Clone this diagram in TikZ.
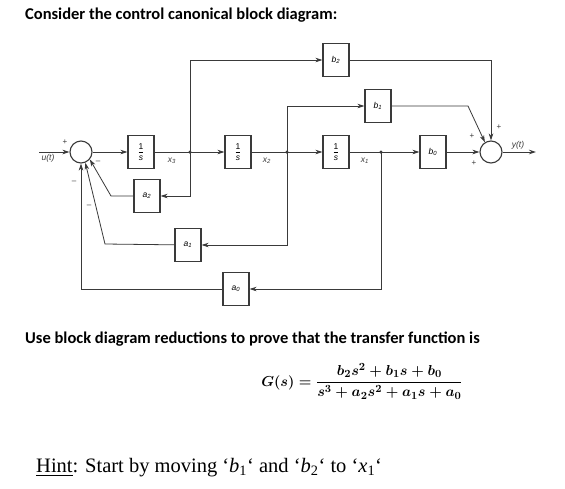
\documentclass[tikz,border=0pt]{standalone}
\usepackage{amsmath}
\usepackage{fontspec}
\setmainfont{Carlito}
\setsansfont{Liberation Sans}
\newfontfamily\timesf{Liberation Serif}
\usetikzlibrary{arrows.meta}
\definecolor{linec}{HTML}{3A3A3A}
\newcommand{\dfont}{\sffamily\itshape\fontsize{8.5}{9.5}\selectfont}
\newcommand{\intg}{$\dfrac{\textsf{\upshape 1}}{\textsf{\itshape s}}$}
\newcommand{\lab}[2]{#1\textsubscript{#2}}
\tikzset{
  ln/.style={draw=linec, line width=0.8pt},
  arr/.style={ln, -{Stealth[length=7pt,width=4.5pt]}},
  blk/.style={draw=linec, line width=1.2pt, minimum width=26pt, minimum height=33pt, inner sep=0pt, fill=white, font=\dfont},
  sumn/.style={draw=linec, circle, line width=1.1pt, minimum size=22pt, inner sep=0pt},
  lbl/.style={font=\dfont, text=linec, inner sep=0pt},
  sgn/.style={font=\sffamily\fontsize{8}{9}\selectfont, text=linec, inner sep=0pt},
  jdot/.style={circle, fill=linec, minimum size=3.5pt, inner sep=0pt}
}
\begin{document}
\begin{tikzpicture}[x=1pt,y=-1pt]
\fill[white] (0,0) rectangle (565,488);
\useasboundingbox (0,0) rectangle (565,488);

% title
\node[anchor=base west, inner sep=0pt, font=\bfseries\fontsize{16.5}{19}\selectfont] (title) at (25,19) {Consider the control canonical block diagram:};

% nodes
\node[sumn] (s1) at (81,152) {};
\node[blk] (i1) at (141,152) {\intg};
\node[jdot] (j1) at (190,152) {};
\node[blk] (i2) at (238,152) {\intg};
\node[jdot] (j2) at (287,152) {};
\node[blk] (i3) at (336,152) {\intg};
\node[jdot] (j3) at (381,152) {};
\node[blk] (b0) at (433,152) {\lab{b}{0}};
\node[sumn] (s2) at (491,152) {};
\node[blk] (b2) at (336,60) {\lab{b}{2}};
\node[blk] (b1) at (378,106) {\lab{b}{1}};
\node[blk] (a2) at (147,196) {\lab{a}{2}};
\node[blk] (a1) at (188,245) {\lab{a}{1}};
\node[blk] (a0) at (236,289) {\lab{a}{0}};
\coordinate (uin) at (39,152);
\coordinate (yout) at (536,152);
\coordinate (k1) at (468,106);
\coordinate (k2) at (111,196);
\coordinate (k3) at (105,244);

% forward path
\draw[arr] (uin) -- (s1);
\draw[arr] (s1) -- (i1);
\draw[ln] (i1) -- (j1.center);
\draw[arr] (j1.center) -- (i2);
\draw[ln] (i2) -- (j2.center);
\draw[arr] (j2.center) -- (i3);
\draw[ln] (i3) -- (j3.center);
\draw[arr] (j3.center) -- (b0);
\draw[arr] (b0) -- (s2);
\draw[arr] (s2) -- (yout);

% feedforward
\draw[arr] (j1.center) |- (b2);
\draw[arr] (b2) -| (s2);
\draw[arr] (j2.center) |- (b1);
\draw[arr] (b1) -- (k1) -- (s2.122);

% feedback
\draw[arr] (j1.center) |- (a2);
\draw[arr] (a2) -- (k2) -- (s1.-40);
\draw[arr] (j2.center) |- (a1);
\draw[arr] (a1) -- (k3) -- (s1.-68);
\draw[arr] (j3.center) |- (a0);
\draw[arr] (a0) -| (s1);

% labels
\node[lbl] (lu) at (48,158) {u(t)};
\node[lbl] (ly) at (518,145) {y(t)};
\node[lbl] (lx3) at (172,161) {x\textsubscript{3}};
\node[lbl] (lx2) at (267,161) {x\textsubscript{2}};
\node[lbl] (lx1) at (365,161) {x\textsubscript{1}};
\node[sgn] (p1) at (65,142) {+};
\node[sgn] (m1) at (98,162) {\textendash};
\node[sgn] (m2) at (74,182) {\textendash};
\node[sgn] (m3) at (89,206) {\textendash};
\node[sgn] (p2) at (472,136) {+};
\node[sgn] (p3) at (499,127) {+};
\node[sgn] (p4) at (474,163) {+};

% text below
\node[anchor=base west, inner sep=0pt, font=\bfseries\fontsize{16.5}{19}\selectfont] (use) at (25,343) {Use block diagram reductions to prove that the transfer function is};
\node[inner sep=0pt, font=\fontsize{15.5}{18}\selectfont\boldmath] (eq) at (362,381) {$G(s)=\dfrac{b_2s^2+b_1s+b_0}{s^3+a_2s^2+a_1s+a_0}$};
\node[anchor=base west, inner sep=0pt, font=\timesf\fontsize{20.5}{24}\selectfont] (hint) at (36,472) {\underline{Hint}: Start by moving ‘\textit{b}\textsubscript{1}‘ and ‘\textit{b}\textsubscript{2}‘ to ‘\textit{x}\textsubscript{1}‘};
\end{tikzpicture}
\end{document}
